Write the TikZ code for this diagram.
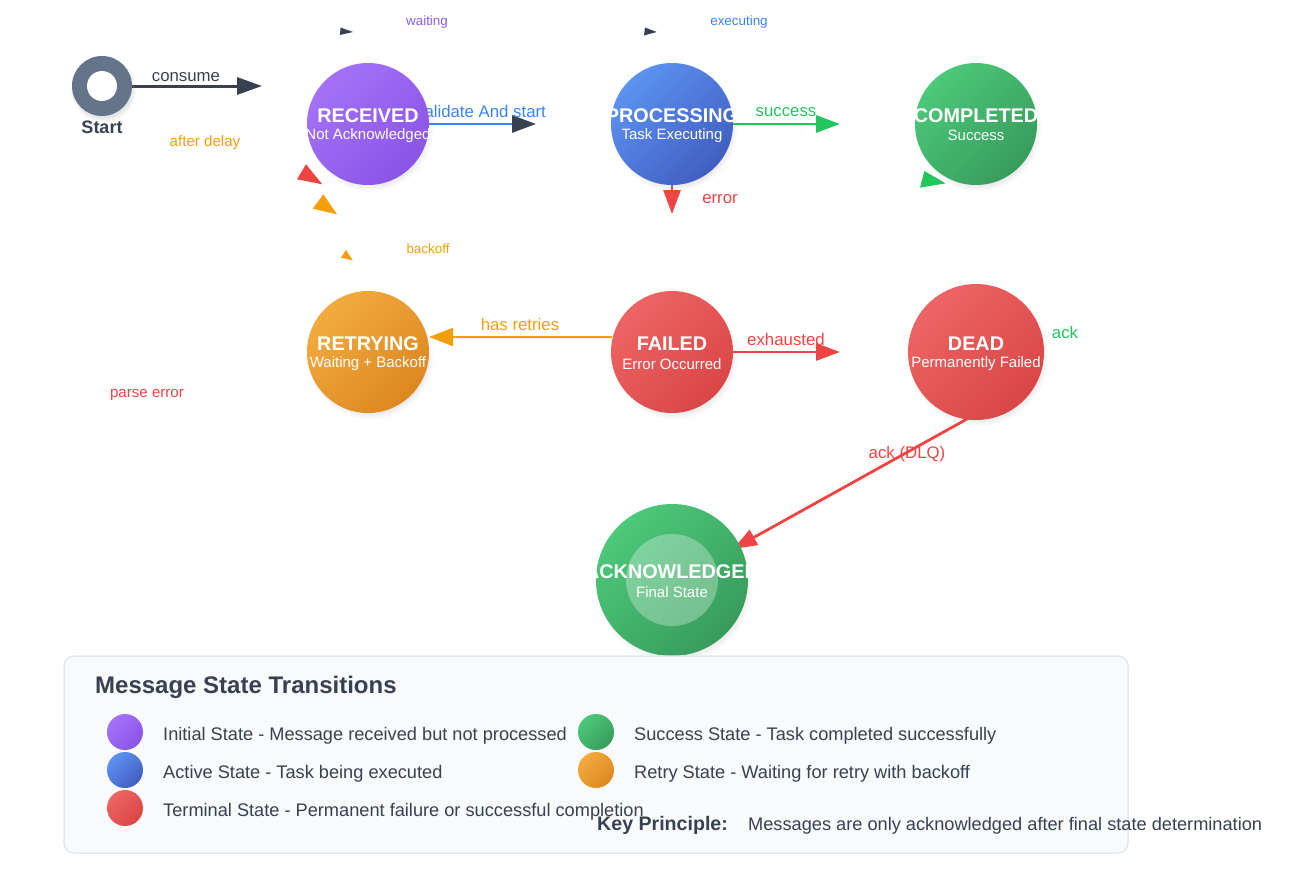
\documentclass[tikz,border=0pt]{standalone}
\usepackage{fontspec}
\setmainfont{Liberation Sans}
\usetikzlibrary{arrows.meta,shadows,calc}
\definecolor{dark}{HTML}{374151}
\definecolor{slate}{HTML}{64748B}
\definecolor{cpurple}{HTML}{8B5CF6}
\definecolor{cblue}{HTML}{3B82F6}
\definecolor{cgreen}{HTML}{22C55E}
\definecolor{cred}{HTML}{EF4444}
\definecolor{corange}{HTML}{F59E0B}
\definecolor{purA}{HTML}{A472F8}
\definecolor{purB}{HTML}{8A54E6}
\definecolor{bluA}{HTML}{5C92F1}
\definecolor{bluB}{HTML}{415EC2}
\definecolor{grnA}{HTML}{4CC97A}
\definecolor{grnB}{HTML}{389B5C}
\definecolor{oraA}{HTML}{F2AB3E}
\definecolor{oraB}{HTML}{DC8820}
\definecolor{redA}{HTML}{EE6464}
\definecolor{redB}{HTML}{DA4646}
\definecolor{legbg}{HTML}{F8FAFC}
\definecolor{legbd}{HTML}{E2E8F0}
\newcommand\myfs[1]{\fontsize{#1}{#1}\selectfont}
\pgfdeclarelayer{bg}
\pgfsetlayers{bg,main}
\tikzset{
  statenode/.style={circle, minimum size=122pt, inner sep=0pt,
    circular drop shadow={shadow xshift=2pt, shadow yshift=-4pt, opacity=0.22, shadow scale=1.04}},
  purfill/.style={top color=purA, bottom color=purB, shading angle=45},
  blufill/.style={top color=bluA, bottom color=bluB, shading angle=45},
  grnfill/.style={top color=grnA, bottom color=grnB, shading angle=45},
  orafill/.style={top color=oraA, bottom color=oraB, shading angle=45},
  redfill/.style={top color=redA, bottom color=redB, shading angle=45},
  txt/.style={inner sep=0pt, yshift=-1.8pt},
  ttl/.style={txt, text=white, font=\myfs{19.8}\bfseries},
  sub/.style={txt, text=white, font=\myfs{15}},
  elabel/.style={txt, font=\myfs{16.8}},
  slabel/.style={txt, font=\myfs{13.4}},
  mlabel/.style={txt, font=\myfs{15.1}},
  edgeline/.style={line width=2.8pt},
  bighead/.style={-{Triangle[length=24pt,width=17pt]}},
  legdot/.style={circle, minimum size=36pt, inner sep=0pt},
  legtext/.style={txt, anchor=west, text=dark, font=\myfs{18.2}},
}
\begin{document}
\begin{tikzpicture}[x=1pt,y=-1pt]
\useasboundingbox (0,0) rectangle (1313,868);

% start
\node[circle, fill=slate, minimum size=60pt, inner sep=0pt,
  circular drop shadow={shadow xshift=1pt, shadow yshift=-3pt, opacity=0.2}] (start) at (102,86) {};
\node[circle, fill=white, minimum size=30pt, inner sep=0pt] (starthole) at (102,86) {};
\node[txt, text=dark, font=\myfs{18}\bfseries] (startlbl) at (102,125) {Start};

% states
\node[statenode, purfill] (rec) at (368,124) {};
\node[ttl] (recT) at (368,114) {RECEIVED};
\node[sub] (recS) at (368,134) {Not Acknowledged};

\node[statenode, blufill] (proc) at (672,124) {};
\node[ttl] (procT) at (672,114) {PROCESSING};
\node[sub] (procS) at (672,134) {Task Executing};

\node[statenode, grnfill] (comp) at (976,124) {};
\node[ttl] (compT) at (976,114) {COMPLETED};
\node[sub] (compS) at (976,134) {Success};

\node[statenode, orafill] (retry) at (368,352) {};
\node[ttl] (retryT) at (368,342) {RETRYING};
\node[sub] (retryS) at (368,362) {Waiting + Backoff};

\node[statenode, redfill] (failed) at (672,352) {};
\node[ttl] (failedT) at (672,342) {FAILED};
\node[sub] (failedS) at (672,362) {Error Occurred};

\node[statenode, redfill, minimum size=136pt] (dead) at (976,352) {};
\node[ttl] (deadT) at (976,342) {DEAD};
\node[sub] (deadS) at (976,362) {Permanently Failed};

\node[statenode, grnfill, minimum size=152pt] (ack) at (672,580) {};
\node[circle, fill=white, fill opacity=0.3, minimum size=92pt, inner sep=0pt] (ackin) at (672,580) {};
\node[ttl] (ackT) at (672,570) {ACKNOWLEDGED};
\node[sub] (ackS) at (672,590) {Final State};

% free ends
\coordinate (consumeEnd) at (262,86);
\coordinate (validEnd) at (536,124);
\coordinate (succEnd) at (840,124);
\coordinate (errEnd) at (672,214);
\coordinate (exhEnd) at (840,352);

\begin{pgfonlayer}{bg}
\draw[line width=3pt, dark, -{Triangle[length=25pt,width=17pt]}] (start.east) -- (consumeEnd);
\node[elabel, text=dark] (lconsume) at (186,75) {consume};

\draw[edgeline, cblue, -{Triangle[length=24pt,width=17pt,color=dark,fill=dark]}] (rec.east) -- (validEnd);
\node[elabel, text=cblue] (lvalid) at (481,110) {validate And start};

\draw[edgeline, cgreen, bighead] (proc.east) -- (succEnd);
\node[elabel, text=cgreen] (lsucc) at (786,110) {success};

\draw[edgeline, cred, bighead] (proc.south) -- (errEnd);
\node[elabel, text=cred] (lerr) at (720,197) {error};

\draw[line width=2.5pt, corange, -{Triangle[length=24pt,width=18pt]}] ($(failed.center)+(-60,-15)$) -- ($(retry.center)+(61,-15)$);
\node[elabel, text=corange] (lretr) at (520,323) {has retries};

\draw[edgeline, cred, bighead] (failed.east) -- (exhEnd);
\node[elabel, text=cred] (lexh) at (786,338) {exhausted};

\draw[edgeline, cred, bighead] ($(dead.center)+(0,62)$) -- ($(ack.center)+(61,-31)$);
\end{pgfonlayer}
\node[elabel, text=cred] (ldlq) at (907,452) {ack (DLQ)};

% stray labels
\node[slabel, text=cpurple] (lwait) at (427,20) {waiting};
\node[slabel, text=cblue] (lexec) at (739,20) {executing};
\node[mlabel, text=corange] (ldelay) at (205,141) {after delay};
\node[slabel, text=corange] (lback) at (428,247) {backoff};
\node[mlabel, text=cred] (lparse) at (147,393) {parse error};
\node[elabel, text=cgreen] (lack) at (1065,331) {ack};

% stray arrowheads
\fill[dark] (340.5,27.5) -- (353,32) -- (340,35) -- cycle;
\fill[dark] (645,27.5) -- (656.7,32) -- (644,35.5) -- cycle;
\fill[cgreen] (924.3,171) -- (945.7,183.3) -- (920,187.7) -- cycle;
\fill[cred] (306,164.3) -- (322.3,184.3) -- (297,179.3) -- cycle;
\fill[corange] (323.3,194.3) -- (337,214.3) -- (312.7,208.7) -- cycle;
\fill[corange] (346,250) -- (352.7,260.3) -- (341,257.7) -- cycle;

% legend
\draw[fill=legbg, draw=legbd, line width=1.5pt, rounded corners=10pt] (64,656) rectangle (1128,853);
\node[txt, anchor=west, text=dark, font=\myfs{24}\bfseries] (legtitle) at (95,686) {Message State Transitions};
\node[legdot, purfill] (d1) at (125,732) {};
\node[legdot, blufill] (d2) at (125,770) {};
\node[legdot, redfill] (d3) at (125,808) {};
\node[legdot, grnfill] (d4) at (596,732) {};
\node[legdot, orafill] (d5) at (596,770) {};
\node[legtext] (t1) at (163,734) {Initial State - Message received but not processed};
\node[legtext] (t2) at (163,772) {Active State - Task being executed};
\node[legtext] (t3) at (163,810) {Terminal State - Permanent failure or successful completion};
\node[legtext] (t4) at (634,734) {Success State - Task completed successfully};
\node[legtext] (t5) at (634,772) {Retry State - Waiting for retry with backoff};
\node[txt, anchor=west, text=dark, font=\myfs{19.6}\bfseries] (kp) at (597,824) {Key Principle:};
\node[legtext] (kpt) at (748,824) {Messages are only acknowledged after final state determination};
\end{tikzpicture}
\end{document}
